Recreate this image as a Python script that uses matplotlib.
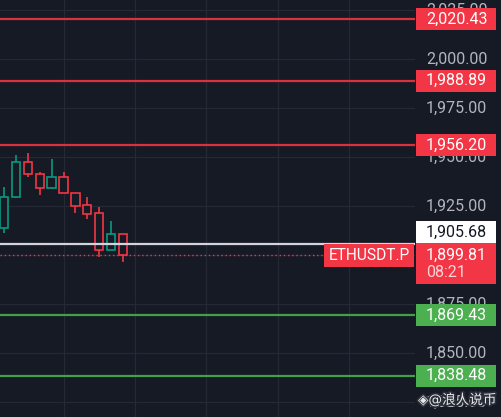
import matplotlib
matplotlib.use("Agg")
import matplotlib.pyplot as plt
from matplotlib.patches import Rectangle
import matplotlib.patheffects as pe

# ---------------- data ----------------
opens  = [1913.8, 1929.6, 1947.4, 1941.3, 1934.2, 1939.8, 1931.6, 1925.5, 1921.4, 1902.6, 1910.7]
highs  = [1934.7, 1951.0, 1952.0, 1942.3, 1949.0, 1942.3, 1931.8, 1929.6, 1924.5, 1917.3, 1910.9]
lows   = [1911.2, 1929.3, 1939.8, 1930.6, 1933.7, 1931.6, 1921.4, 1918.4, 1899.0, 1902.4, 1896.4]
closes = [1929.6, 1947.4, 1941.3, 1934.2, 1939.8, 1931.6, 1925.0, 1920.9, 1902.6, 1910.7, 1899.81]

resistance_levels = [2020.43, 1988.89, 1956.20]
support_levels = [1869.43, 1838.48]
white_level = 1905.68
last_price = 1899.81
countdown = "08:21"
symbol = "ETHUSDT.P"
tick_values = [2025, 2000, 1975, 1950, 1925, 1900, 1875, 1850, 1825]
tick_labels = ["2,025.00", "2,000.00", "1,975.00", "1,950.00", "1,925.00",
               "1,900.00", "1,875.00", "1,850.00", "1,825.00"]
vgrid_bars = [5, 11, 17, 23, 29]
watermark = "◈@浪人说币"

# ---------------- style ----------------
BG = "#161a25"
GRID = "#242935"
RED = "#f23645"
GREEN_C = "#089981"
LINE_RED = "#d8323f"
LINE_GREEN = "#43a047"
BOX_GREEN = "#4caf50"
TICK = "#b2b5be"
FONT = "Roboto"
FS = 11.5

W, H = 501, 417
fig = plt.figure(figsize=(W / 100, H / 100), dpi=100, facecolor=BG)

PX = 1.96          # pixels per price unit
YTOP = 2025 + 10 / PX
YBOT = 2025 - 407 / PX
STEP = 11.9        # pixels per bar
def bx(p):         # pixel -> bar index
    return (p - 4) / STEP

PLOT_W = 415
ax = fig.add_axes([0, 0, PLOT_W / W, 1])
ax.set_facecolor(BG)
ax.set_xlim(bx(0), bx(PLOT_W))
ax.set_ylim(YBOT, YTOP)
ax.set_yticks(tick_values)
ax.set_xticks(vgrid_bars)
ax.grid(True, color=GRID, lw=0.9, zorder=0)
ax.tick_params(length=0, labelleft=False, labelbottom=False)
for s in ax.spines.values():
    s.set_visible(False)

# candles (hollow)
bw = 0.70
for i, (o, h, l, c) in enumerate(zip(opens, highs, lows, closes)):
    col = GREEN_C if c >= o else RED
    ax.vlines(i, l, h, color=col, lw=1.2, zorder=2)
    ax.add_patch(Rectangle((i - bw / 2, min(o, c)), bw, abs(c - o),
                           facecolor=BG, edgecolor=col, lw=1.2, zorder=3))

# horizontal levels
for lv in resistance_levels:
    ax.axhline(lv, color=LINE_RED, lw=1.6, zorder=4)
for lv in support_levels:
    ax.axhline(lv, color=LINE_GREEN, lw=1.6, zorder=4)
ax.axhline(white_level, color="#d1d4dc", lw=1.6, zorder=4)
ax.hlines(last_price, bx(0), bx(324), color=RED, lw=1.0,
          linestyles=(0, (1, 2)), zorder=4)

# symbol box
sym_top = last_price + (255 - 244) / PX
sym_bot = last_price - (267 - 255) / PX
ax.add_patch(Rectangle((bx(324), sym_bot), bx(414) - bx(324), sym_top - sym_bot,
                       facecolor=RED, edgecolor="none", zorder=6))
ax.text((bx(324) + bx(414)) / 2, (sym_top + sym_bot) / 2, symbol, color="white",
        fontsize=FS - 0.3, family=FONT, ha="center", va="center", zorder=7)

# ---------------- price scale ----------------
lab = fig.add_axes([PLOT_W / W, 0, (W - PLOT_W) / W, 1])
lab.set_facecolor(BG)
lab.set_xlim(0, W - PLOT_W)
lab.set_ylim(YBOT, YTOP)
lab.axis("off")

TX = 11
for v, t in zip(tick_values, tick_labels):
    lab.text(TX, v, t, color=TICK, fontsize=FS, family=FONT,
             ha="left", va="center", zorder=1)

bh = 22 / PX
def box(center, text, fc, tc):
    lab.add_patch(Rectangle((1, center - bh / 2), 80, bh, facecolor=fc,
                            edgecolor="none", zorder=3))
    lab.text(TX, center, text, color=tc, fontsize=FS, family=FONT,
             ha="left", va="center", zorder=4)

for lv in resistance_levels:
    box(lv, f"{lv:,.2f}", RED, "white")
for lv in support_levels:
    box(lv, f"{lv:,.2f}", BOX_GREEN, "white")
# white box shifted up above the last price box
box(white_level + (243 - 231.5) / PX, f"{white_level:,.2f}", "white", "#131722")

# last price box with countdown
lp_top = last_price + (255 - 243) / PX
lp_bot = last_price - (284 - 255) / PX
lab.add_patch(Rectangle((1, lp_bot), 80, lp_top - lp_bot, facecolor=RED,
                        edgecolor="none", zorder=3))
lab.text(TX, last_price, f"{last_price:,.2f}", color="white", fontsize=FS,
         family=FONT, ha="left", va="center", zorder=4)
lab.text(TX, last_price - 17 / PX, countdown, color="#fbd4d7", fontsize=FS,
         family=FONT, ha="left", va="center", zorder=4)

# watermark
lab.text(3, 2025 - (400 - 10) / PX, watermark, color="#e8e8e8", fontsize=9.8,
         family=["DejaVu Sans", "Noto Sans CJK SC"], ha="left", va="center",
         zorder=5,
         path_effects=[pe.withStroke(linewidth=2.5, foreground="#2a2e39")])

fig.savefig("out.png", dpi=100, facecolor=BG)
